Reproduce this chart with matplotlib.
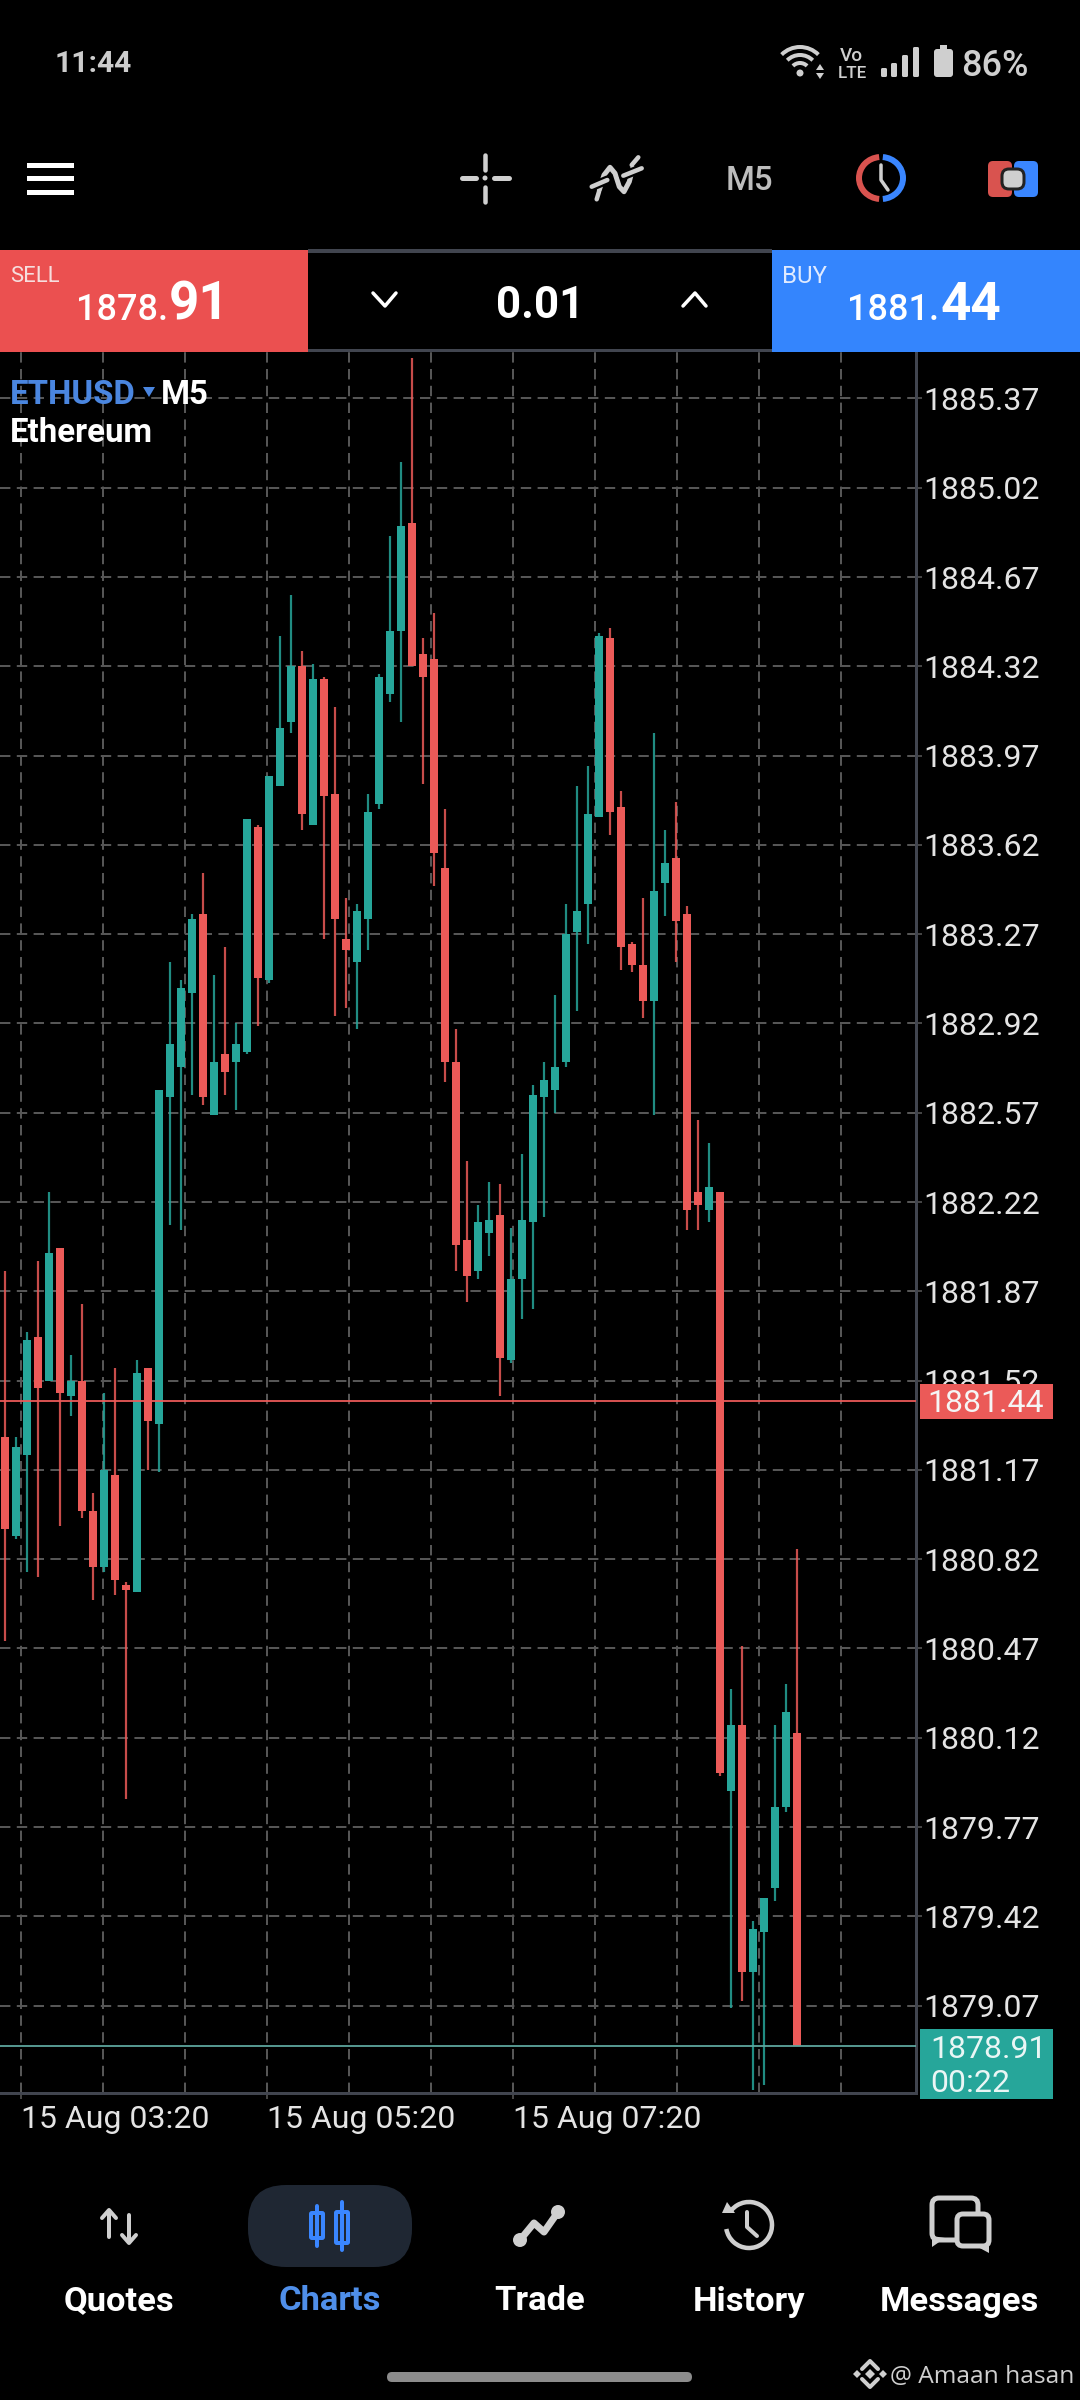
import matplotlib
matplotlib.use("Agg")
import matplotlib.pyplot as plt
from matplotlib.patches import Rectangle, FancyBboxPatch, Arc, Circle, Polygon

# values, one entry per 5 minute candle
opens = [1881.30, 1880.91, 1881.23, 1881.69, 1881.52, 1882.04, 1881.46, 1881.52, 1881.01, 1880.79,
         1881.15, 1880.72, 1880.69, 1881.57, 1881.35, 1882.63, 1882.75, 1883.04, 1883.35, 1882.56,
         1882.80, 1882.77, 1882.81, 1883.69, 1883.09, 1883.85, 1884.10, 1884.32, 1883.70, 1884.27,
         1883.82, 1883.25, 1883.16, 1883.33, 1883.78, 1884.21, 1884.46, 1884.88, 1884.37, 1884.35,
         1883.53, 1882.77, 1882.07, 1881.95, 1882.10, 1882.17, 1881.60, 1881.92, 1882.14, 1882.63,
         1882.66, 1882.77, 1883.28, 1883.39, 1883.73, 1884.43, 1883.77, 1883.23, 1883.15, 1883.01,
         1883.47, 1883.57, 1883.35, 1882.26, 1882.19, 1882.26, 1879.91, 1880.17, 1879.20, 1879.36,
         1879.53, 1879.85, 1880.14]
highs = [1881.95, 1881.30, 1881.71, 1881.99, 1882.26, 1882.04, 1881.62, 1881.82, 1881.08, 1881.47,
         1881.57, 1880.73, 1881.60, 1881.57, 1882.66, 1883.16, 1883.09, 1883.35, 1883.51, 1883.11,
         1883.22, 1882.92, 1883.72, 1883.70, 1883.89, 1884.44, 1884.60, 1884.38, 1884.33, 1884.28,
         1884.16, 1883.41, 1883.39, 1883.82, 1884.29, 1884.83, 1885.12, 1885.53, 1884.43, 1884.53,
         1883.76, 1882.90, 1882.38, 1882.21, 1882.30, 1882.29, 1882.12, 1882.41, 1882.68, 1882.77,
         1883.03, 1883.39, 1883.85, 1883.93, 1884.45, 1884.47, 1883.83, 1883.24, 1883.41, 1884.06,
         1883.68, 1883.79, 1883.38, 1882.54, 1882.45, 1882.26, 1880.31, 1880.48, 1879.40, 1879.49,
         1880.17, 1880.33, 1880.86]
lows = [1880.50, 1880.90, 1880.77, 1880.75, 1881.52, 1880.95, 1881.38, 1880.98, 1880.66, 1880.77,
        1880.68, 1879.88, 1880.69, 1881.17, 1881.16, 1882.13, 1882.11, 1882.64, 1882.60, 1882.56,
        1882.64, 1882.58, 1882.80, 1882.91, 1883.08, 1883.85, 1884.06, 1883.68, 1883.70, 1883.25,
        1882.95, 1882.98, 1882.90, 1883.21, 1883.76, 1884.18, 1884.10, 1884.32, 1883.86, 1883.46,
        1882.69, 1881.95, 1881.83, 1881.92, 1882.01, 1881.46, 1881.59, 1881.76, 1881.80, 1882.16,
        1882.57, 1882.75, 1882.97, 1883.23, 1883.73, 1883.66, 1883.13, 1883.12, 1882.94, 1882.56,
        1883.34, 1883.16, 1882.11, 1882.11, 1882.14, 1879.97, 1879.06, 1879.09, 1878.74, 1878.76,
        1879.48, 1879.83, 1878.91]
closes = [1880.94, 1881.26, 1881.68, 1881.49, 1882.02, 1881.47, 1881.52, 1881.01, 1880.79, 1881.17,
          1880.74, 1880.70, 1881.55, 1881.36, 1882.66, 1882.84, 1883.06, 1883.33, 1882.63, 1882.77,
          1882.73, 1882.84, 1883.72, 1883.10, 1883.89, 1884.08, 1884.32, 1883.74, 1884.27, 1883.81,
          1883.33, 1883.21, 1883.36, 1883.75, 1884.28, 1884.46, 1884.87, 1884.32, 1884.28, 1883.59,
          1882.77, 1882.05, 1881.93, 1882.14, 1882.15, 1881.61, 1881.92, 1882.15, 1882.64, 1882.70,
          1882.75, 1883.27, 1883.36, 1883.74, 1884.44, 1883.75, 1883.22, 1883.15, 1883.01, 1883.44,
          1883.55, 1883.32, 1882.19, 1882.21, 1882.28, 1879.98, 1880.17, 1879.20, 1879.37, 1879.49,
          1879.85, 1880.22, 1878.91]

price_ticks = [1885.37, 1885.02, 1884.67, 1884.32, 1883.97, 1883.62, 1883.27, 1882.92, 1882.57, 1882.22,
               1881.87, 1881.52, 1881.17, 1880.82, 1880.47, 1880.12, 1879.77, 1879.42, 1879.07]
time_labels = ["15 Aug 03:20", "15 Aug 05:20", "15 Aug 07:20"]
bid = 1878.91
ask = 1881.44
nav_labels = ["Quotes", "Charts", "Trade", "History", "Messages"]

RED = "#eb5a58"
GREEN = "#26a69a"
BLUE = "#3a86ff"
GRID = "#565656"
EDGE = "#41454f"
GREY = "#cfcfcf"


def px(n):
    # pixels to points at dpi 100
    return n * 0.72


plt.rcParams["font.family"] = ["Roboto", "DejaVu Sans"]
fig = plt.figure(figsize=(10.8, 24), dpi=100, facecolor="black")

# chart area, in pixels: x 0-916, y 352-2093
ax = fig.add_axes([0, (2400 - 2093) / 2400, 916 / 1080, (2093 - 352) / 2400], facecolor="black")
ax.set_xlim(-5 / 11, 911 / 11)
ax.set_ylim(1885.37 - (2093 - 398.5) / 255.1, 1885.37 + (398.5 - 352) / 255.1)

for i in range(len(opens)):
    col = RED if closes[i] < opens[i] else GREEN
    ax.vlines(i, lows[i], highs[i], color=col, lw=px(2.2), alpha=0.85, zorder=3)
    ax.bar(i, abs(closes[i] - opens[i]), bottom=min(opens[i], closes[i]), width=0.74, color=col, zorder=4)

ax.axhline(ask, color=RED, lw=px(1.8), zorder=5)
ax.axhline(bid, color="#5ea69e", lw=px(1.8), zorder=5)

# grid
step = 82 / 11
major = [15.7 / 11 + step * k for k in (0, 3, 6)]
minor = [15.7 / 11 + step * k for k in (1, 2, 4, 5, 7, 8, 9, 10)]
ax.set_xticks(major)
ax.set_xticklabels(time_labels, ha="left", fontsize=px(32), color="#e4e4e4")
ax.set_xticks(minor, minor=True)
ax.set_yticks(price_ticks)
ax.set_yticklabels(["%.2f" % p for p in price_ticks], fontsize=px(32), color="#e4e4e4")
ax.yaxis.tick_right()
ax.tick_params(axis="y", length=px(6), width=px(1.6), color=GRID, pad=px(1))
ax.tick_params(axis="x", which="major", length=px(6), width=px(1.6), color=GRID, pad=px(6))
ax.tick_params(axis="x", which="minor", length=0)
ax.grid(True, which="both", color=GRID, lw=px(2), linestyle=(0, (5.2, 3.2)))
ax.set_axisbelow(True)
for s in ["top", "left"]:
    ax.spines[s].set_visible(False)
ax.spines["right"].set_color(EDGE)
ax.spines["bottom"].set_color(EDGE)
ax.spines["right"].set_linewidth(px(3))
ax.spines["bottom"].set_linewidth(px(3))

# everything else is screen furniture, drawn in pixel coordinates
ui = fig.add_axes([0, 0, 1, 1])
ui.set_xlim(0, 1080)
ui.set_ylim(2400, 0)
ui.axis("off")


def rect(x0, y0, x1, y1, col, z=2):
    ui.add_patch(Rectangle((x0, y0), x1 - x0, y1 - y0, color=col, lw=0, zorder=z))


def rrect(x0, y0, x1, y1, r, face, edge="none", lw=0):
    ui.add_patch(FancyBboxPatch((x0 + r, y0 + r), x1 - x0 - 2 * r, y1 - y0 - 2 * r,
                                boxstyle="round,pad=%f" % r, fc=face, ec=edge, lw=lw))


def line(xs, ys, col=GREY, w=4):
    ui.plot(xs, ys, color=col, lw=px(w), solid_capstyle="round", solid_joinstyle="round")


def label(x, y, s, size, col="white", ha="left", weight="normal", family=None, va="center_baseline"):
    ui.text(x, y, s, fontsize=px(size), color=col, ha=ha, va=va, fontweight=weight,
            family=family if family else ["Roboto", "DejaVu Sans"])


# status bar
label(55, 61, "11:44", 30, "#cccccc", weight="bold")
for r in (10, 18, 26):
    ui.add_patch(Arc((800, 73), 2 * r, 2 * r, theta1=225, theta2=315, color=GREY, lw=px(4)))
ui.add_patch(Circle((800, 73), 3.5, color=GREY, lw=0))
ui.add_patch(Polygon([(816, 70), (824, 70), (820, 64)], color=GREY, lw=0))
ui.add_patch(Polygon([(816, 73), (824, 73), (820, 79)], color=GREY, lw=0))
label(840, 54, "Vo", 19, GREY, weight="medium")
label(838, 72, "LTE", 17, GREY, weight="medium")
for bx, top in zip((881, 891, 902, 913), (68, 63, 55, 47)):
    rrect(bx, top, bx + 6, 77, 1.5, GREY)
rrect(934, 49, 953, 77, 3, GREY)
rect(940, 45, 947, 49, GREY)
label(961, 63, "86%", 36, GREY, weight="medium")

# toolbar
for y in (165, 178, 192):
    rect(27, y - 2.5, 74, y + 2.5, "white")
line([485, 485], [155, 170], GREY, 4.5)
line([485, 485], [187, 202], GREY, 4.5)
line([462, 476], [178, 178], GREY, 5)
line([494, 509], [178, 178], GREY, 5)
ui.add_patch(Circle((485, 178), 2.5, color=GREY, lw=0))
wave_x = [599.3, 604, 610, 615, 619.3, 624, 629.3, 632.7]
wave_y = [190, 175, 167.3, 173.3, 186.7, 191.7, 181.7, 168.3]
line(wave_x, wave_y, GREY, 5)
line([591.7, 607.3], [186.7, 180], "black", 9)
line([623.3, 641.7], [175.7, 168.3], "black", 9)
line([591.7, 607.3], [186.7, 180], GREY, 4.5)
line([623.3, 641.7], [175.7, 168.3], GREY, 4.5)
line([596.7, 599], [199.3, 191.7], GREY, 4.5)
line([631.7, 638.3], [165, 157.3], GREY, 4.5)
label(749, 178, "M5", 33, "#bdbdbd", ha="center", weight="medium")
ui.add_patch(Arc((881, 178), 44, 42, theta1=95, theta2=265, color="#d9534f", lw=px(6)))
ui.add_patch(Arc((881, 178), 44, 42, theta1=-85, theta2=85, color=BLUE, lw=px(6)))
line([881, 881, 888], [165, 180, 190], GREY, 3.5)
rrect(988, 161, 1012, 197, 5, "#d9534f")
rrect(1014, 161, 1038, 197, 5, BLUE)
rrect(1002, 169, 1024, 189, 7, GREY, edge="#222222", lw=px(3))

# sell / lot / buy strip
rect(0, 250, 308, 352, "#eb5050")
rect(772, 250, 1080, 352, "#3485fd")
rect(308, 249, 772, 253, EDGE)
rect(308, 349, 772, 352, EDGE)
label(10, 274, "SELL", 22, "#f6dede")
label(168, 320, "1878.", 36, "white", ha="right", weight="medium", va="baseline")
label(169, 320, "91", 53, "white", weight="bold", va="baseline")
label(782, 274, "BUY", 24, "#dfeaff")
label(939, 320, "1881.", 36, "white", ha="right", weight="medium", va="baseline")
label(941, 320, "44", 53, "white", weight="bold", va="baseline")
label(540, 302, "0.01", 44, "white", ha="center", weight="bold")
line([373, 385, 396], [293, 306, 293], "white", 3.5)
line([683, 695, 706], [306, 293, 306], "white", 3.5)

# symbol caption
label(10, 391, "ETHUSD", 33, "#4a86e0", weight="bold")
ui.add_patch(Polygon([(143, 387), (155, 387), (149, 397)], color="#4a86e0", lw=0))
label(161, 391, "M5", 33, "white", weight="bold")
label(10, 430, "Ethereum", 33, "white", weight="bold")

# price tags on the axis
rect(920, 1384, 1053, 1419, RED)
label(986, 1401, "%.2f" % ask, 32, "#f5f5f5", ha="center")
rect(920, 2029, 1053, 2099, GREEN)
label(930, 2046, "%.2f" % bid, 32, "#eaf6f5")
label(930, 2081, "00:22", 32, "#eaf6f5")

# bottom navigation
rrect(248, 2185, 412, 2267, 38, "#1f2733")
nav_x = [119, 330, 540, 749, 959]
for lab, x in zip(nav_labels, nav_x):
    label(x, 2298, lab, 34.5, "#4f8fea" if lab == "Charts" else "white", ha="center", weight="bold")

line([109, 109], [2211, 2237], GREY, 4)
line([102, 109, 116], [2218, 2210, 2218], GREY, 4)
line([129, 129], [2215, 2242], GREY, 4)
line([122, 129, 136], [2235, 2243, 2235], GREY, 4)

for cx, y0, y1, w0, w1 in ((317, 2213, 2238, 2206, 2246), (342, 2212, 2243, 2202, 2250)):
    line([cx, cx], [w0, w1], BLUE, 4)
    rrect(cx - 6, y0, cx + 6, y1, 1, "#1f2733", edge=BLUE, lw=px(4))

line([520, 534, 544, 558], [2240, 2223, 2232, 2212], GREY, 7)
ui.add_patch(Circle((520, 2240), 7, color=GREY, lw=0))
ui.add_patch(Circle((558, 2212), 7, color=GREY, lw=0))

ui.add_patch(Arc((749, 2225), 46, 46, theta1=-140, theta2=170, color=GREY, lw=px(4.5)))
ui.add_patch(Polygon([(722, 2213), (735, 2213), (727, 2202)], color=GREY, lw=0))
line([747, 747, 757], [2212, 2227, 2236], GREY, 4)

rrect(932, 2198, 978, 2240, 7, "black", edge=GREY, lw=px(5))
ui.add_patch(Polygon([(932, 2236), (932, 2247), (945, 2238)], color=GREY, lw=0))
rrect(957, 2214, 989, 2246, 6, "black", edge=GREY, lw=px(5))
ui.add_patch(Polygon([(989, 2243), (989, 2253), (976, 2246)], color=GREY, lw=0))

# home bar and watermark
rrect(387, 2372, 692, 2382, 5, "#8c8c8c")
line([862, 870, 878], [2369, 2361, 2369], GREY, 4)
line([862, 870, 878], [2379, 2387, 2379], GREY, 4)
for dx in (-13, 13):
    ui.add_patch(Polygon([(870 + dx, 2370), (874 + dx, 2374), (870 + dx, 2378), (866 + dx, 2374)], color=GREY, lw=0))
ui.add_patch(Polygon([(870, 2369), (875, 2374), (870, 2379), (865, 2374)], color=GREY, lw=0))
label(890, 2374, "@ Amaan hasan", 24.5, GREY, family=["Open Sans", "DejaVu Sans"])

fig.savefig("out.png", dpi=100, facecolor="black")
plt.close(fig)
